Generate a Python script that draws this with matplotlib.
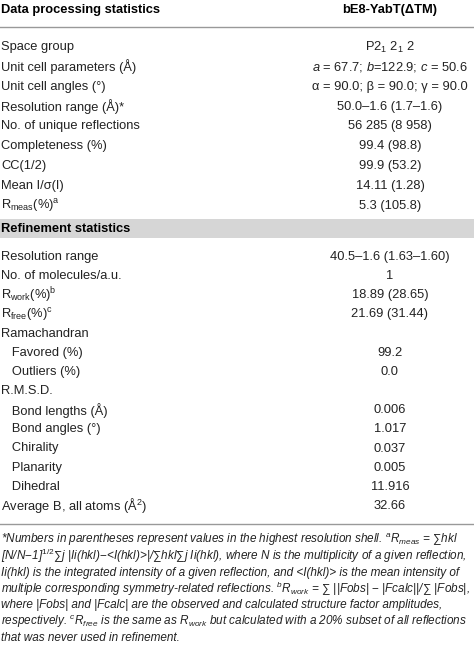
import matplotlib.pyplot as plt

plt.rcParams['font.family'] = ['Liberation Sans', 'DejaVu Sans']
plt.rcParams['mathtext.fontset'] = 'custom'
plt.rcParams['mathtext.rm'] = 'Liberation Sans'
plt.rcParams['mathtext.it'] = 'Liberation Sans:italic'

header_left = "Data processing statistics"
header_right = "bE8-YabT(\u0394TM)"

data_labels = ["Space group", "Unit cell parameters (\u00c5)", "Unit cell angles (\u00b0)",
               "Resolution range (\u00c5)*", "No. of unique reflections", "Completeness (%)",
               "CC(1/2)", "Mean I/\u03c3(I)", r"R$_{\mathrm{meas}}$(%)$^{\mathrm{a}}$"]
data_values = [r"P2$_1$ 2$_1$ 2", r"$a$ = 67.7; $b$=122.9; $c$ = 50.6",
               "\u03b1 = 90.0; \u03b2 = 90.0; \u03b3 = 90.0", "50.0\u20131.6 (1.7\u20131.6)",
               "56 285 (8 958)", "99.4 (98.8)", "99.9 (53.2)", "14.11 (1.28)", "5.3 (105.8)"]

ref_labels = ["Resolution range", "No. of molecules/a.u.",
              r"R$_{\mathrm{work}}$(%)$^{\mathrm{b}}$", r"R$_{\mathrm{free}}$(%)$^{\mathrm{c}}$",
              "Ramachandran", "   Favored (%)", "   Outliers (%)", "R.M.S.D.",
              "   Bond lengths (\u00c5)", "   Bond angles (\u00b0)", "   Chirality", "   Planarity",
              "   Dihedral", "Average B, all atoms (\u00c5" + r"$^{2}$)"]
ref_values = ["40.5\u20131.6 (1.63\u20131.60)", "1", "18.89 (28.65)", "21.69 (31.44)",
              "", "99.2", "0.0", "", "0.006", "1.017", "0.037", "0.005", "11.916", "32.66"]

footnote = [
    r"*Numbers in parentheses represent values in the highest resolution shell. $^{a}$R$_{meas}$ = $\sum$hkl",
    r"[N/N$-$1]$^{1/2}$$\sum$j |Ii(hkl)$-$<I(hkl)>|/$\sum$hkl$\sum$j Ii(hkl), where N is the multiplicity of a given reflection,",
    "Ii(hkl) is the integrated intensity of a given reflection, and <I(hkl)> is the mean intensity of",
    r"multiple corresponding symmetry-related reflections. $^{b}$R$_{work}$ = $\sum$ ||Fobs| $-$ |Fcalc||/$\sum$ |Fobs|,",
    "where |Fobs| and |Fcalc| are the observed and calculated structure factor amplitudes,",
    r"respectively. $^{c}$R$_{free}$ is the same as R$_{work}$ but calculated with a 20% subset of all reflections",
    "that was never used in refinement.",
]

fig = plt.figure(figsize=(4.74, 6.5), dpi=100)
ax = fig.add_axes([0, 0, 1, 1])
ax.set_xlim(0, 474)
ax.set_ylim(650, 0)
ax.axis('off')

fs = 9.3
vx = 390

ax.text(1, 10, header_left, fontsize=fs, fontweight='bold', va='center')
ax.text(vx, 10, header_right, fontsize=fs, fontweight='bold', va='center', ha='center')
ax.plot([0, 474], [27, 27], color='#999999', lw=1)

y0, step = 47, 19.85
for i, (lab, val) in enumerate(zip(data_labels, data_values)):
    y = y0 + i * step
    ax.text(1, y, lab, fontsize=fs, va='center', color='#222222')
    ax.text(vx, y, val, fontsize=fs, va='center', ha='center', color='#222222')

ax.axhspan(219, 238, color='#d6d6d6', lw=0)
ax.text(1, 228.5, "Refinement statistics", fontsize=fs, fontweight='bold', va='center')

y0, step = 257, 19.15
for i, (lab, val) in enumerate(zip(ref_labels, ref_values)):
    y = y0 + i * step
    ax.text(1, y, lab, fontsize=fs, va='center', color='#222222')
    ax.text(vx, y, val, fontsize=fs, va='center', ha='center', color='#222222')

ax.plot([0, 474], [524, 524], color='#999999', lw=1)

for i, line in enumerate(footnote):
    ax.text(1, 540 + i * 16.3, line, fontsize=8.5, style='italic', va='center', color='#222222')

fig.savefig('out.png', dpi=100)
